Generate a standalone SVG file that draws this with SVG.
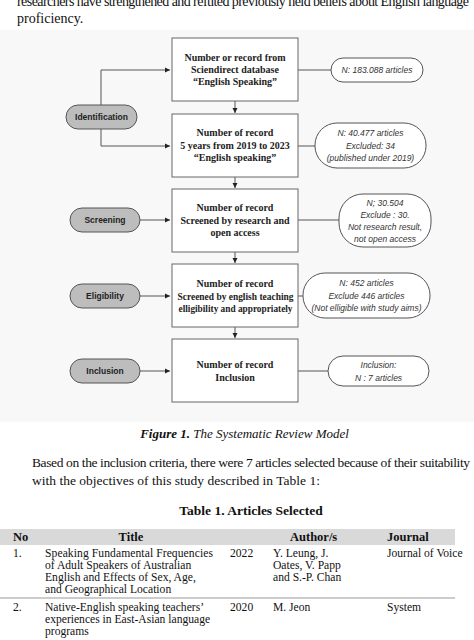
<svg xmlns="http://www.w3.org/2000/svg" width="474" height="640" viewBox="0 0 474 640">
<defs>
<marker id="ah" markerWidth="6" markerHeight="6" refX="5" refY="3" orient="auto" markerUnits="userSpaceOnUse">
<path d="M0,0.5 L5,3 L0,5.5 Z" fill="#222"/>
</marker>
<style>
.page{font-family:"Liberation Serif","Times New Roman",serif;fill:#111;}
.box{fill:#fff;stroke:#666;stroke-width:1;}
.bt{font-family:"Liberation Serif","Times New Roman",serif;font-weight:bold;font-size:10px;fill:#222;text-anchor:middle;}
.lp{fill:#bdbdbd;stroke:#555;stroke-width:1;}
.lt{font-family:"Liberation Sans",Arial,sans-serif;font-weight:bold;font-size:8.5px;fill:#222;text-anchor:middle;}
.rp{fill:#fff;stroke:#555;stroke-width:1;}
.rt{font-family:"Liberation Sans",Arial,sans-serif;font-style:italic;font-size:8.5px;fill:#333;text-anchor:middle;}
.ln{fill:none;stroke:#555;stroke-width:1;}
.tb{font-family:"Liberation Serif","Times New Roman",serif;font-size:11.6px;fill:#111;}
.th{font-family:"Liberation Serif","Times New Roman",serif;font-size:12.5px;font-weight:bold;fill:#111;}
</style>
</defs>
<rect width="474" height="640" fill="#fff"/>
<rect x="0" y="30" width="474" height="392" fill="#f8f8f8"/>
<text class="page" x="17" y="6" font-size="14" textLength="452">researchers have strengthened and refuted previously held beliefs about English language</text>
<text class="page" x="17" y="23" font-size="14">proficiency.</text>

<g id="connectors">
<path class="ln" d="M101,105 V70 H170" marker-end="url(#ah)"/>
<path class="ln" d="M101,129 V146 H170" marker-end="url(#ah)"/>
<path class="ln" d="M140,220 H170" marker-end="url(#ah)"/>
<path class="ln" d="M140,296 H170" marker-end="url(#ah)"/>
<path class="ln" d="M140,371 H170" marker-end="url(#ah)"/>
<path class="ln" d="M235,101 V113" marker-end="url(#ah)"/>
<path class="ln" d="M235,177 V188" marker-end="url(#ah)"/>
<path class="ln" d="M235,252 V263" marker-end="url(#ah)"/>
<path class="ln" d="M235,327 V338" marker-end="url(#ah)"/>
<path class="ln" d="M298,70 H331"/>
<path class="ln" d="M298,146 H315"/>
<path class="ln" d="M298,220 H339"/>
<path class="ln" d="M298,296 H303"/>
<path class="ln" d="M298,371 H328"/>
</g>

<g id="box1"><rect class="box" x="172" y="38" width="126" height="63"/>
<text class="bt" x="235" y="61">Number or record from</text>
<text class="bt" x="235" y="73">Sciendirect database</text>
<text class="bt" x="235" y="85">“English Speaking”</text></g>
<g id="box2"><rect class="box" x="172" y="114" width="126" height="63"/>
<text class="bt" x="235" y="136">Number of record</text>
<text class="bt" x="235" y="148.5">5 years from 2019 to 2023</text>
<text class="bt" x="235" y="161">“English speaking”</text></g>
<g id="box3"><rect class="box" x="172" y="189" width="126" height="63"/>
<text class="bt" x="235" y="211">Number of record</text>
<text class="bt" x="235" y="223.5">Screened by research and</text>
<text class="bt" x="235" y="236">open access</text></g>
<g id="box4"><rect class="box" x="172" y="264" width="126" height="63"/>
<text class="bt" x="235" y="287">Number of record</text>
<text class="bt" x="235.5" y="299.5" textLength="116" lengthAdjust="spacingAndGlyphs">Screened by english teaching</text>
<text class="bt" x="235.5" y="312" textLength="114" lengthAdjust="spacingAndGlyphs">elligibility and appropriately</text></g>
<g id="box5"><rect class="box" x="172" y="339" width="126" height="63"/>
<text class="bt" x="235" y="368">Number of record</text>
<text class="bt" x="235" y="381">Inclusion</text></g>

<g id="identification"><rect class="lp" x="66" y="105" width="71" height="24" rx="12"/>
<text class="lt" x="101.5" y="120">Identification</text></g>
<g id="screening"><rect class="lp" x="70" y="208" width="70" height="24" rx="12"/>
<text class="lt" x="105" y="223">Screening</text></g>
<g id="eligibility"><rect class="lp" x="70" y="284" width="70" height="24" rx="12"/>
<text class="lt" x="105" y="299">Eligibility</text></g>
<g id="inclusion"><rect class="lp" x="70" y="359" width="70" height="24" rx="12"/>
<text class="lt" x="105" y="374">Inclusion</text></g>

<g id="n1"><rect class="rp" x="331" y="58" width="92" height="24" rx="12"/>
<text class="rt" x="377" y="73">N: 183.088 articles</text></g>
<g id="n2"><rect class="rp" x="315" y="123" width="111" height="45" rx="22"/>
<text class="rt" x="370.5" y="136">N: 40.477 articles</text>
<text class="rt" x="370.5" y="148.5">Excluded: 34</text>
<text class="rt" x="370.5" y="161">(published under 2019)</text></g>
<g id="n3"><rect class="rp" x="339" y="194" width="92" height="53" rx="24"/>
<text class="rt" x="385" y="206">N; 30.504</text>
<text class="rt" x="385" y="217.5">Exclude : 30.</text>
<text class="rt" x="385" y="229.5">Not research result,</text>
<text class="rt" x="385" y="241.5">not open access</text></g>
<g id="n4"><rect class="rp" x="303" y="273" width="127" height="45" rx="22"/>
<text class="rt" x="366.5" y="286">N: 452 articles</text>
<text class="rt" x="366.5" y="298.5">Exclude 446 articles</text>
<text class="rt" x="366.5" y="311">(Not elligible with study aims)</text></g>
<g id="n5"><rect class="rp" x="328" y="356" width="101" height="30" rx="15"/>
<text class="rt" x="378.5" y="368">Inclusion:</text>
<text class="rt" x="378.5" y="380.5">N : 7 articles</text></g>

<text class="page" x="244.5" y="438" font-size="13" text-anchor="middle" font-style="italic"><tspan font-weight="bold">Figure 1.</tspan> The Systematic Review Model</text>
<text class="page" x="32" y="467" font-size="13.5" textLength="438">Based on the inclusion criteria, there were 7 articles selected because of their suitability</text>
<text class="page" x="32" y="485" font-size="13.5">with the objectives of this study described in Table 1:</text>
<text class="page" x="251" y="515" font-size="13.5" font-weight="bold" text-anchor="middle">Table 1. Articles Selected</text>

<g id="table">
<rect x="0" y="529" width="455" height="16" fill="#d9d9d9"/>
<text class="th" x="13" y="541">No</text>
<text class="th" x="131" y="541" text-anchor="middle">Title</text>
<text class="th" x="290" y="541">Author/s</text>
<text class="th" x="387" y="541">Journal</text>
<text class="tb" x="13" y="557">1.</text>
<text class="tb" x="45" y="557" textLength="168">Speaking Fundamental Frequencies</text>
<text class="tb" x="45" y="569">of Adult Speakers of Australian</text>
<text class="tb" x="45" y="581">English and Effects of Sex, Age,</text>
<text class="tb" x="45" y="593">and Geographical Location</text>
<text class="tb" x="230" y="557">2022</text>
<text class="tb" x="273" y="557">Y. Leung, J.</text>
<text class="tb" x="273" y="569">Oates, V. Papp</text>
<text class="tb" x="273" y="581">and S.-P. Chan</text>
<text class="tb" x="387" y="557">Journal of Voice</text>
<line x1="0" y1="598" x2="455" y2="598" stroke="#999" stroke-width="1"/>
<text class="tb" x="13" y="611">2.</text>
<text class="tb" x="45" y="611">Native-English speaking teachers’</text>
<text class="tb" x="45" y="623">experiences in East-Asian language</text>
<text class="tb" x="45" y="635">programs</text>
<text class="tb" x="230" y="611">2020</text>
<text class="tb" x="273" y="611">M. Jeon</text>
<text class="tb" x="387" y="611">System</text>
</g>
</svg>
